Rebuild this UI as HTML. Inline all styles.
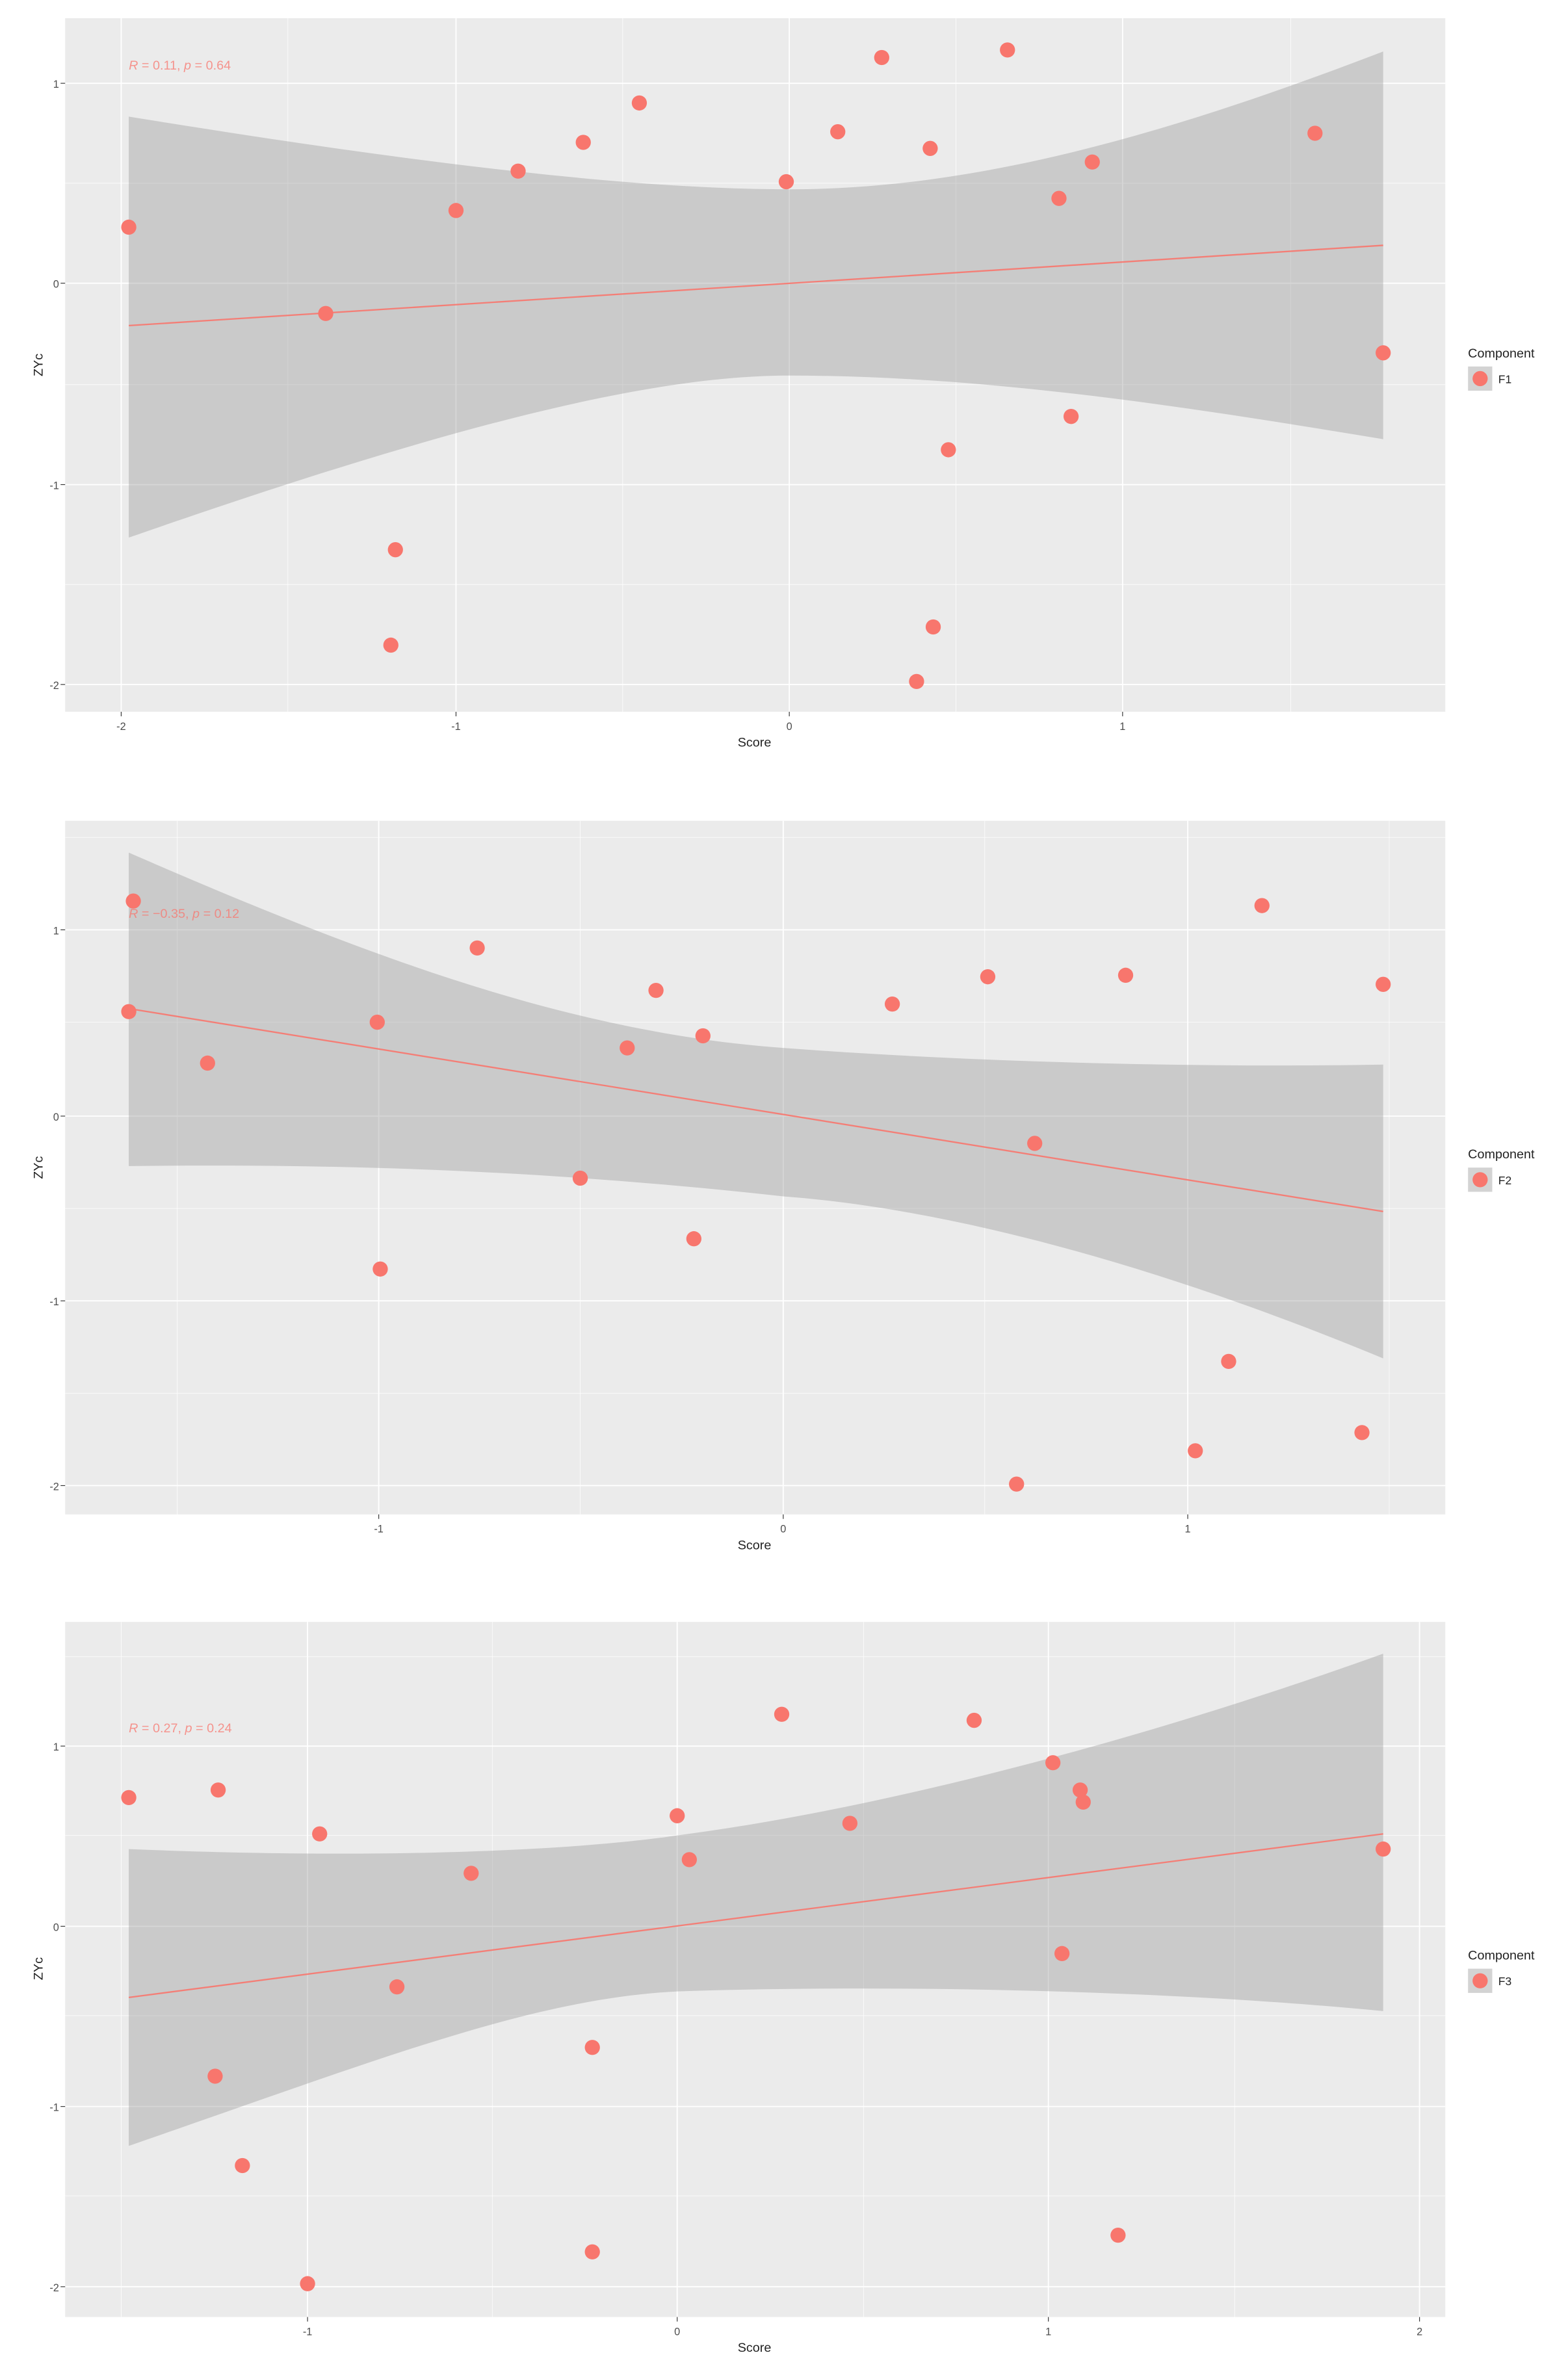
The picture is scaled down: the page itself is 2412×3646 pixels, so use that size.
<!DOCTYPE html>
<html><head><meta charset="utf-8"><style>
html,body{margin:0;padding:0;background:#fff;}
svg{display:block;}
text{font-family:"Liberation Sans",sans-serif;}
</style></head><body>
<svg width="2412" height="3646" viewBox="0 0 1035 1565" preserveAspectRatio="none" xmlns="http://www.w3.org/2000/svg">

<!-- PANEL 1 -->
<rect x="43" y="12" width="911" height="458" fill="#EBEBEB"/>
<g stroke="#fff" stroke-width="0.4" stroke-opacity="0.8">
<line x1="190" y1="12" x2="190" y2="470"/><line x1="411" y1="12" x2="411" y2="470"/><line x1="631" y1="12" x2="631" y2="470"/><line x1="852" y1="12" x2="852" y2="470"/>
<line x1="43" y1="121" x2="954" y2="121"/><line x1="43" y1="254" x2="954" y2="254"/><line x1="43" y1="386" x2="954" y2="386"/>
</g>
<g stroke="#fff" stroke-width="0.8">
<line x1="80" y1="12" x2="80" y2="470"/><line x1="301" y1="12" x2="301" y2="470"/><line x1="521" y1="12" x2="521" y2="470"/><line x1="741" y1="12" x2="741" y2="470"/>
<line x1="43" y1="55" x2="954" y2="55"/><line x1="43" y1="187" x2="954" y2="187"/><line x1="43" y1="320" x2="954" y2="320"/><line x1="43" y1="452" x2="954" y2="452"/>
</g>
<path d="M85,77 C300,112 430,125 521,125 C650,125 780,85 913,34 L913,290 C780,268 650,248 521,248 C430,248 300,280 85,355 Z" fill="#999" fill-opacity="0.4"/>
<line x1="85" y1="215" x2="913" y2="162" stroke="#F8766D" stroke-width="1" stroke-opacity="0.9"/>
<g fill="#F8766D">
<circle cx="85" cy="150" r="5"/><circle cx="215" cy="207" r="5"/><circle cx="261" cy="363" r="5"/><circle cx="258" cy="426" r="5"/><circle cx="301" cy="139" r="5"/><circle cx="342" cy="113" r="5"/><circle cx="385" cy="94" r="5"/><circle cx="422" cy="68" r="5"/><circle cx="519" cy="120" r="5"/><circle cx="553" cy="87" r="5"/><circle cx="582" cy="38" r="5"/><circle cx="605" cy="450" r="5"/><circle cx="614" cy="98" r="5"/><circle cx="616" cy="414" r="5"/><circle cx="626" cy="297" r="5"/><circle cx="665" cy="33" r="5"/><circle cx="699" cy="131" r="5"/><circle cx="707" cy="275" r="5"/><circle cx="721" cy="107" r="5"/><circle cx="868" cy="88" r="5"/><circle cx="913" cy="233" r="5"/>
</g>
<text x="85" y="46" font-size="8.5" fill="#F8766D" fill-opacity="0.75"><tspan font-style="italic">R</tspan> = 0.11, <tspan font-style="italic">p</tspan> = 0.64</text>
<g font-size="7" fill="#4D4D4D" text-anchor="end">
<text x="39" y="58">1</text><text x="39" y="190">0</text><text x="39" y="323">-1</text><text x="39" y="455">-2</text>
</g>
<g stroke="#333" stroke-width="0.5">
<line x1="40" y1="55" x2="43" y2="55"/><line x1="40" y1="187" x2="43" y2="187"/><line x1="40" y1="320" x2="43" y2="320"/><line x1="40" y1="452" x2="43" y2="452"/>
<line x1="80" y1="470" x2="80" y2="473"/><line x1="301" y1="470" x2="301" y2="473"/><line x1="521" y1="470" x2="521" y2="473"/><line x1="741" y1="470" x2="741" y2="473"/>
</g>
<g font-size="7" fill="#4D4D4D" text-anchor="middle">
<text x="80" y="482">-2</text><text x="301" y="482">-1</text><text x="521" y="482">0</text><text x="741" y="482">1</text>
</g>
<text x="498" y="493" font-size="8.5" fill="#222" text-anchor="middle">Score</text>
<text transform="translate(28,241) rotate(-90)" font-size="8.5" fill="#222" text-anchor="middle">ZYc</text>
<text x="969" y="236" font-size="8.5" fill="#222">Component</text>
<rect x="969" y="242" width="16" height="16" fill="#D3D3D3"/><circle cx="977" cy="250" r="5" fill="#F8766D"/>
<text x="989" y="253" font-size="7.5" fill="#222">F1</text>

<!-- PANEL 2 -->
<rect x="43" y="542" width="911" height="458" fill="#EBEBEB"/>
<g stroke="#fff" stroke-width="0.4" stroke-opacity="0.8">
<line x1="117" y1="542" x2="117" y2="1000"/><line x1="383" y1="542" x2="383" y2="1000"/><line x1="650" y1="542" x2="650" y2="1000"/><line x1="917" y1="542" x2="917" y2="1000"/>
<line x1="43" y1="553" x2="954" y2="553"/><line x1="43" y1="675" x2="954" y2="675"/><line x1="43" y1="798" x2="954" y2="798"/><line x1="43" y1="920" x2="954" y2="920"/>
</g>
<g stroke="#fff" stroke-width="0.8">
<line x1="250" y1="542" x2="250" y2="1000"/><line x1="517" y1="542" x2="517" y2="1000"/><line x1="784" y1="542" x2="784" y2="1000"/>
<line x1="43" y1="614" x2="954" y2="614"/><line x1="43" y1="737" x2="954" y2="737"/><line x1="43" y1="859" x2="954" y2="859"/><line x1="43" y1="981" x2="954" y2="981"/>
</g>
<path d="M85,563 C250,635 380,682 517,692 C650,702 800,705 913,703 L913,897 C800,850 650,800 517,790 C380,775 250,768 85,770 Z" fill="#999" fill-opacity="0.4"/>
<line x1="85" y1="666" x2="913" y2="800" stroke="#F8766D" stroke-width="1" stroke-opacity="0.9"/>
<g fill="#F8766D">
<circle cx="88" cy="595" r="5"/><circle cx="85" cy="668" r="5"/><circle cx="137" cy="702" r="5"/><circle cx="249" cy="675" r="5"/><circle cx="251" cy="838" r="5"/><circle cx="315" cy="626" r="5"/><circle cx="383" cy="778" r="5"/><circle cx="414" cy="692" r="5"/><circle cx="433" cy="654" r="5"/><circle cx="458" cy="818" r="5"/><circle cx="464" cy="684" r="5"/><circle cx="589" cy="663" r="5"/><circle cx="652" cy="645" r="5"/><circle cx="671" cy="980" r="5"/><circle cx="683" cy="755" r="5"/><circle cx="743" cy="644" r="5"/><circle cx="789" cy="958" r="5"/><circle cx="811" cy="899" r="5"/><circle cx="833" cy="598" r="5"/><circle cx="899" cy="946" r="5"/><circle cx="913" cy="650" r="5"/>
</g>
<text x="85" y="606" font-size="8.5" fill="#F8766D" fill-opacity="0.75"><tspan font-style="italic">R</tspan> = −0.35, <tspan font-style="italic">p</tspan> = 0.12</text>
<g font-size="7" fill="#4D4D4D" text-anchor="end">
<text x="39" y="617">1</text><text x="39" y="740">0</text><text x="39" y="862">-1</text><text x="39" y="984">-2</text>
</g>
<g stroke="#333" stroke-width="0.5">
<line x1="40" y1="614" x2="43" y2="614"/><line x1="40" y1="737" x2="43" y2="737"/><line x1="40" y1="859" x2="43" y2="859"/><line x1="40" y1="981" x2="43" y2="981"/>
<line x1="250" y1="1000" x2="250" y2="1003"/><line x1="517" y1="1000" x2="517" y2="1003"/><line x1="784" y1="1000" x2="784" y2="1003"/>
</g>
<g font-size="7" fill="#4D4D4D" text-anchor="middle">
<text x="250" y="1012">-1</text><text x="517" y="1012">0</text><text x="784" y="1012">1</text>
</g>
<text x="498" y="1023" font-size="8.5" fill="#222" text-anchor="middle">Score</text>
<text transform="translate(28,771) rotate(-90)" font-size="8.5" fill="#222" text-anchor="middle">ZYc</text>
<text x="969" y="765" font-size="8.5" fill="#222">Component</text>
<rect x="969" y="771" width="16" height="16" fill="#D3D3D3"/><circle cx="977" cy="779" r="5" fill="#F8766D"/>
<text x="989" y="782" font-size="7.5" fill="#222">F2</text>

<!-- PANEL 3 -->
<rect x="43" y="1071" width="911" height="459" fill="#EBEBEB"/>
<g stroke="#fff" stroke-width="0.4" stroke-opacity="0.8">
<line x1="80" y1="1071" x2="80" y2="1530"/><line x1="325" y1="1071" x2="325" y2="1530"/><line x1="570" y1="1071" x2="570" y2="1530"/><line x1="815" y1="1071" x2="815" y2="1530"/>
<line x1="43" y1="1094" x2="954" y2="1094"/><line x1="43" y1="1212" x2="954" y2="1212"/><line x1="43" y1="1331" x2="954" y2="1331"/><line x1="43" y1="1450" x2="954" y2="1450"/>
</g>
<g stroke="#fff" stroke-width="0.8">
<line x1="203" y1="1071" x2="203" y2="1530"/><line x1="447" y1="1071" x2="447" y2="1530"/><line x1="692" y1="1071" x2="692" y2="1530"/><line x1="937" y1="1071" x2="937" y2="1530"/>
<line x1="43" y1="1153" x2="954" y2="1153"/><line x1="43" y1="1272" x2="954" y2="1272"/><line x1="43" y1="1391" x2="954" y2="1391"/><line x1="43" y1="1510" x2="954" y2="1510"/>
</g>
<path d="M85,1221 C250,1228 380,1222 447,1212 C600,1192 780,1140 913,1092 L913,1328 C780,1315 600,1310 447,1315 C350,1320 250,1360 85,1417 Z" fill="#999" fill-opacity="0.4"/>
<line x1="85" y1="1319" x2="913" y2="1211" stroke="#F8766D" stroke-width="1" stroke-opacity="0.9"/>
<g fill="#F8766D">
<circle cx="85" cy="1187" r="5"/><circle cx="144" cy="1182" r="5"/><circle cx="142" cy="1371" r="5"/><circle cx="160" cy="1430" r="5"/><circle cx="203" cy="1508" r="5"/><circle cx="211" cy="1211" r="5"/><circle cx="262" cy="1312" r="5"/><circle cx="311" cy="1237" r="5"/><circle cx="391" cy="1352" r="5"/><circle cx="391" cy="1487" r="5"/><circle cx="447" cy="1199" r="5"/><circle cx="455" cy="1228" r="5"/><circle cx="516" cy="1132" r="5"/><circle cx="561" cy="1204" r="5"/><circle cx="643" cy="1136" r="5"/><circle cx="695" cy="1164" r="5"/><circle cx="701" cy="1290" r="5"/><circle cx="713" cy="1182" r="5"/><circle cx="715" cy="1190" r="5"/><circle cx="738" cy="1476" r="5"/><circle cx="913" cy="1221" r="5"/>
</g>
<text x="85" y="1144" font-size="8.5" fill="#F8766D" fill-opacity="0.75"><tspan font-style="italic">R</tspan> = 0.27, <tspan font-style="italic">p</tspan> = 0.24</text>
<g font-size="7" fill="#4D4D4D" text-anchor="end">
<text x="39" y="1156">1</text><text x="39" y="1275">0</text><text x="39" y="1394">-1</text><text x="39" y="1513">-2</text>
</g>
<g stroke="#333" stroke-width="0.5">
<line x1="40" y1="1153" x2="43" y2="1153"/><line x1="40" y1="1272" x2="43" y2="1272"/><line x1="40" y1="1391" x2="43" y2="1391"/><line x1="40" y1="1510" x2="43" y2="1510"/>
<line x1="203" y1="1530" x2="203" y2="1533"/><line x1="447" y1="1530" x2="447" y2="1533"/><line x1="692" y1="1530" x2="692" y2="1533"/><line x1="937" y1="1530" x2="937" y2="1533"/>
</g>
<g font-size="7" fill="#4D4D4D" text-anchor="middle">
<text x="203" y="1542">-1</text><text x="447" y="1542">0</text><text x="692" y="1542">1</text><text x="937" y="1542">2</text>
</g>
<text x="498" y="1553" font-size="8.5" fill="#222" text-anchor="middle">Score</text>
<text transform="translate(28,1300) rotate(-90)" font-size="8.5" fill="#222" text-anchor="middle">ZYc</text>
<text x="969" y="1294" font-size="8.5" fill="#222">Component</text>
<rect x="969" y="1300" width="16" height="16" fill="#D3D3D3"/><circle cx="977" cy="1308" r="5" fill="#F8766D"/>
<text x="989" y="1311" font-size="7.5" fill="#222">F3</text>
</svg>
</body></html>
